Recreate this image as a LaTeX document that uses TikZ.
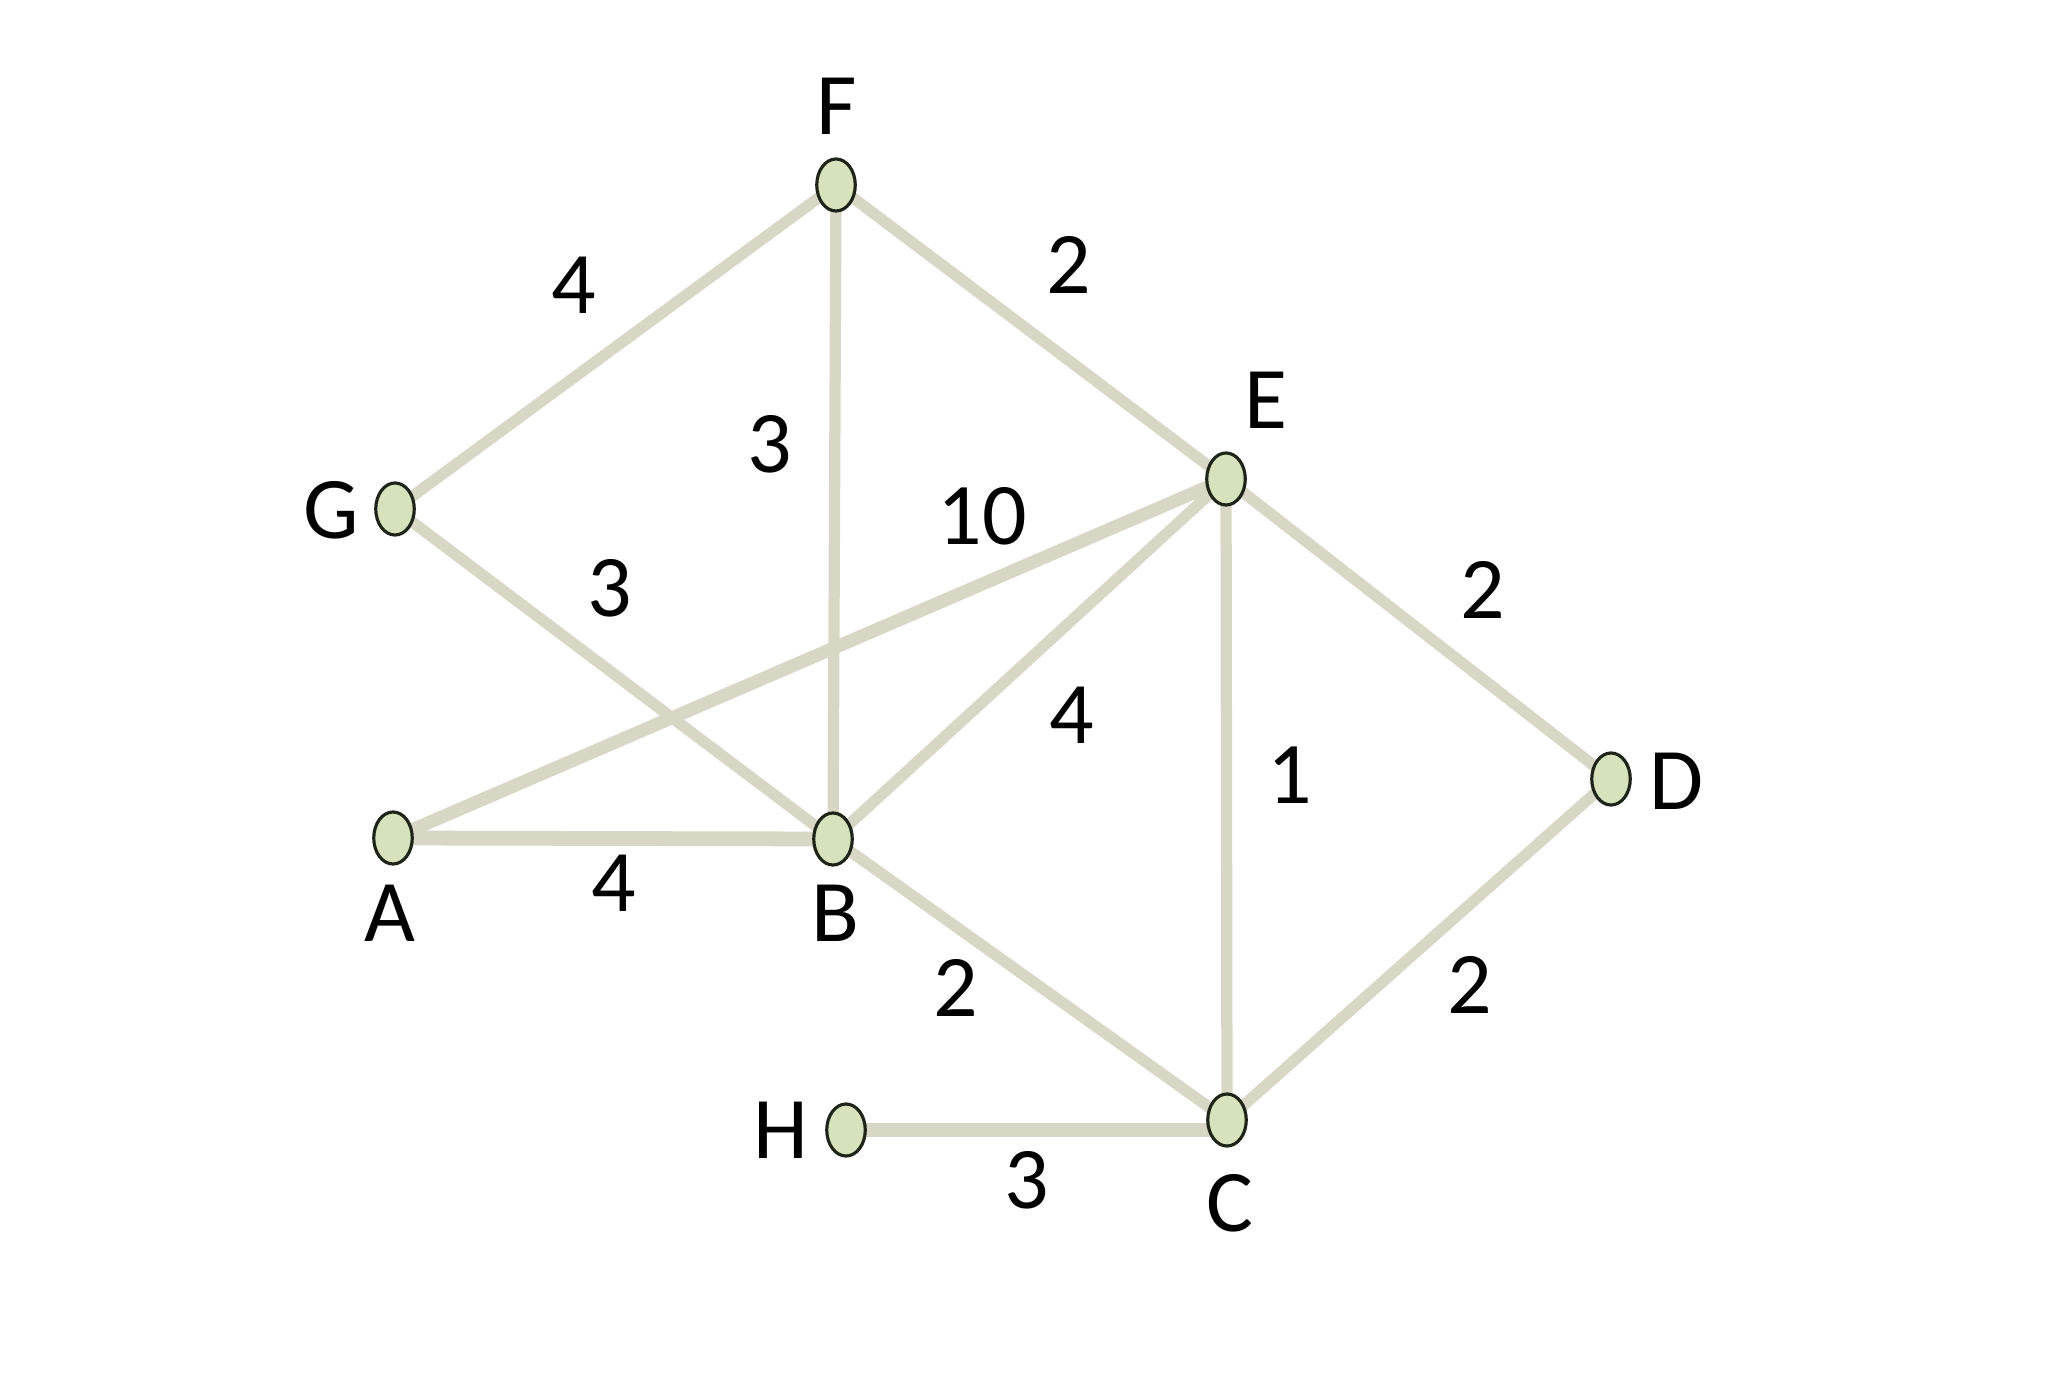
\documentclass[tikz,border=0pt]{standalone}
\usepackage{fontspec}
\setmainfont{Carlito}
\usetikzlibrary{shapes.geometric,backgrounds}
\definecolor{edgecol}{HTML}{D8D7C6}
\definecolor{nodefill}{HTML}{D5E2BB}
\definecolor{nodeline}{HTML}{1E2418}
\begin{document}
\begin{tikzpicture}[x=0.01cm,y=-0.01cm,
  vertex/.style={ellipse,draw=nodeline,fill=nodefill,line width=0.9pt,minimum width=0.385cm,minimum height=0.52cm,inner sep=0pt},
  lbl/.style={inner sep=0pt,font=\fontsize{25}{30}\selectfont,text=black},
  wt/.style={inner sep=0pt,font=\fontsize{25}{30}\selectfont,text=black},
  edge/.style={draw=edgecol,line width=3.2pt},
  thickedge/.style={draw=edgecol,line width=4pt}]
\useasboundingbox (0,0) rectangle (2046,1386);
% vertices
\node[vertex] (F) at (836,185) {};
\node[vertex] (G) at (395,509) {};
\node[vertex] (E) at (1226,479) {};
\node[vertex] (D) at (1611,779) {};
\node[vertex] (A) at (393,838) {};
\node[vertex] (B) at (833,839) {};
\node[vertex] (C) at (1227,1120) {};
\node[vertex] (H) at (846,1130) {};
% vertex names
\node[lbl] (tF) at (837,106) {F};
\node[lbl] (tG) at (331,510) {G};
\node[lbl] (tE) at (1266,400) {E};
\node[lbl] (tD) at (1677,781) {D};
\node[lbl] (tA) at (390,913) {A};
\node[lbl] (tB) at (835,913) {B};
\node[lbl] (tC) at (1230,1203) {C};
\node[lbl] (tH) at (781,1130) {H};
% weights
\node[wt] (wGF) at (574,285) {4};
\node[wt] (wFE) at (1069,265) {2};
\node[wt] (wFB) at (770,444) {3};
\node[wt] (wAE) at (982,516) {10};
\node[wt] (wGB) at (610,588) {3};
\node[wt] (wBE) at (1072,715) {4};
\node[wt] (wEC) at (1290,775) {1};
\node[wt] (wED) at (1483,590) {2};
\node[wt] (wAB) at (614,883) {4};
\node[wt] (wBC) at (956,988) {2};
\node[wt] (wCD) at (1470,985) {2};
\node[wt] (wHC) at (1027,1180) {3};
% edges
\begin{pgfonlayer}{background}
\fill[white] (0,0) rectangle (2046,1386);
\draw[edge] (G.center) -- (F.center);
\draw[edge] (F.center) -- (E.center);
\draw[edge] (F.center) -- (B.center);
\draw[edge] (G.center) -- (B.center);
\draw[edge,line width=3.7pt] (A.center) -- (E.center);
\draw[thickedge,line width=4.2pt] (A.center) -- (B.center);
\draw[edge] (B.center) -- (E.center);
\draw[edge] (E.center) -- (C.center);
\draw[edge] (E.center) -- (D.center);
\draw[edge] (D.center) -- (C.center);
\draw[edge] (B.center) -- (C.center);
\draw[thickedge] (H.center) -- (H.center -| C.center);
\end{pgfonlayer}
\end{tikzpicture}
\end{document}
